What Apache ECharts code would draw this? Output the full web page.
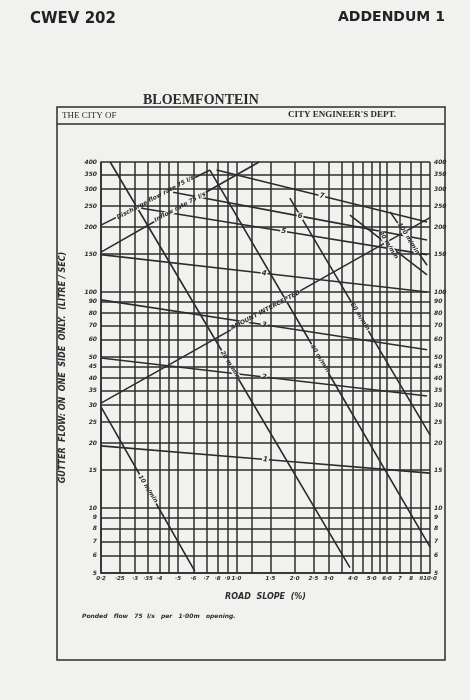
<!DOCTYPE html>
<html><head><meta charset="utf-8">
<script src="https://cdn.jsdelivr.net/npm/echarts@6/dist/echarts.min.js"></script>
<style>html,body{margin:0;padding:0;background:#e9e9e6;}#c{width:470px;height:700px;}</style>
</head><body><div id="c"></div>
<script>
// --- data ---
const slopeTicks = [0.2,0.25,0.3,0.35,0.4,0.5,0.6,0.7,0.8,0.9,1.0,1.5,2.0,2.5,3.0,4.0,5.0,6.0,7,8,9,10];
const slopeLabels = ['0·2','·25','·3','·35','·4','·5','·6','·7','·8','·9','1·0','1·5','2·0','2·5','3·0','4·0','5·0','6·0','7','8','9','10·0'];
const slopeExtra = [0.45,1.2,3.5,4.5,5.5];
const flowTicks = [5,6,7,8,9,10,15,20,25,30,35,40,45,50,60,70,80,90,100,150,200,250,300,350,400];
// width lines (nearly flat): [x1,y1,x2,y2,label]
const widthLines = [
  [0.2,19.4,10,14.5,'1'],
  [0.2,49.5,9.66,33,'2'],
  [0.2,92,9.66,54,'3'],
  [0.2,149,9.66,100,'4'],
  [0.318,245,9.66,149,'5'],
  [0.471,290,9.66,174,'6'],
  [0.79,367,9.66,211,'7']
];
// velocity lines (steep)
const velLines = [
  [0.2,29.4,0.61,5.1,'10 m/min'],
  [0.223,400,3.86,5.3,'20 m/min'],
  [0.73,367,10,6.6,'40 m/min'],
  [1.89,272,10,21.8,'60 m/min'],
  [3.86,227,9.66,120,'80 m/min'],
  [6.22,235,9.66,133,'100 m/min']
];
// rising lines
const riseLines = [
  [0.2,204,0.73,367,'Discharge flow rate 75 l/s'],
  [0.2,153,1.31,400,'Inflow rate 75 l/s'],
  [0.2,30.6,10,221,'AMOUNT INTERCEPTED']
];
// --- chart ---
const ch = echarts.init(document.getElementById('c'));
const F = 'DejaVu Sans';
const ink = '#2c2c2c';
function mk(arr, rot, fs){
  return arr.map(l=>{
    const mx = Math.sqrt(l[0]*l[2]), my = Math.sqrt(l[1]*l[3]);
    return {type:'line', symbol:'circle', symbolSize:0.1, showAllSymbol:true, silent:true, z:3,
      lineStyle:{color:ink,width:1.6}, itemStyle:{color:ink},
      label:{show:false},
      data:[[l[0],l[1]],{value:[mx,my],label:{show:true,formatter:l[4],rotate:rot,fontSize:fs,fontStyle:'italic',fontWeight:'bold',fontFamily:F,color:ink,backgroundColor:'#f1f1ef',padding:[0,1],position:'inside'}},[l[2],l[3]]]};
  });
}
const series = [].concat(mk(widthLines,-8,7), mk(velLines,-58,6), mk(riseLines,28,6));
series.push({type:'line',data:[],silent:true,markLine:{symbol:'none',silent:true,animation:false,
  lineStyle:{color:ink,width:1.5,type:'solid'},
  label:{position:'start',fontSize:6,fontWeight:'bold',fontStyle:'italic',fontFamily:F,color:ink,distance:4,formatter:p=>p.value},
  data:flowTicks.map(v=>({yAxis:v}))}});
series.push({type:'line',data:[],silent:true,markLine:{symbol:'none',silent:true,animation:false,
  lineStyle:{color:ink,width:0},
  label:{position:'end',fontSize:6,fontWeight:'bold',fontStyle:'italic',fontFamily:F,color:ink,distance:4,formatter:p=>p.value},
  data:flowTicks.map(v=>({yAxis:v}))}});
series.push({type:'line',data:[],silent:true,markLine:{symbol:'none',silent:true,animation:false,
  lineStyle:{color:ink,width:1.5,type:'solid'},
  label:{position:'start',fontSize:5.5,fontWeight:'bold',fontStyle:'italic',fontFamily:F,color:ink,distance:3,
    formatter:p=>{const i=slopeTicks.indexOf(p.value);return i>=0?slopeLabels[i]:'';}},
  data:slopeTicks.concat(slopeExtra).map(v=>({xAxis:v}))}});
ch.setOption({
  animation:false,
  backgroundColor:'#f1f1ef',
  grid:{left:101,right:40,top:162,bottom:127},
  xAxis:{type:'log',min:0.2,max:10,logBase:10,axisLine:{lineStyle:{color:ink,width:1.5}},axisTick:{show:false},axisLabel:{show:false},splitLine:{show:false},
    name:'ROAD  SLOPE  (%)',nameLocation:'middle',nameGap:20,nameTextStyle:{fontFamily:F,fontSize:8,fontWeight:'bold',fontStyle:'italic',color:ink}},
  yAxis:{type:'log',min:5,max:400,logBase:10,axisLine:{show:true,lineStyle:{color:ink,width:1.5}},axisTick:{show:false},axisLabel:{show:false},splitLine:{show:false},
    name:'GUTTER  FLOW: ON  ONE  SIDE  ONLY.  (LITRE / SEC)',nameLocation:'middle',nameGap:34,nameTextStyle:{fontFamily:F,fontSize:8,fontWeight:'bold',fontStyle:'italic',color:ink}},
  graphic:[
    {type:'rect',shape:{x:0,y:0,width:470,height:700},style:{fill:'#f1f1ef'},z:-10},
    {type:'text',left:30,top:12,style:{text:'CWEV 202',font:'bold 15px "DejaVu Sans"',fill:'#222'}},
    {type:'text',left:338,top:10,style:{text:'ADDENDUM 1',font:'bold 14px "DejaVu Sans"',fill:'#222'}},
    {type:'rect',shape:{x:57,y:107,width:388,height:553},style:{fill:'none',stroke:ink,lineWidth:1.5}},
    {type:'line',shape:{x1:57,y1:124,x2:445,y2:124},style:{stroke:ink,lineWidth:1.5}},
    {type:'text',left:62,top:111,style:{text:'THE CITY OF',font:'9px "Liberation Serif"',fill:ink}},
    {type:'text',left:143,top:93,style:{text:'BLOEMFONTEIN',font:'bold 14px "Liberation Serif"',fill:ink}},
    {type:'text',left:288,top:110,style:{text:'CITY ENGINEER\'S DEPT.',font:'bold 9px "Liberation Serif"',fill:ink}},
    {type:'text',left:82,top:613,style:{text:'Ponded   flow   75  l/s   per   1·00m   opening.',font:'italic bold 6px "DejaVu Sans"',fill:ink}}
  ],
  series:series
});
</script></body></html>
